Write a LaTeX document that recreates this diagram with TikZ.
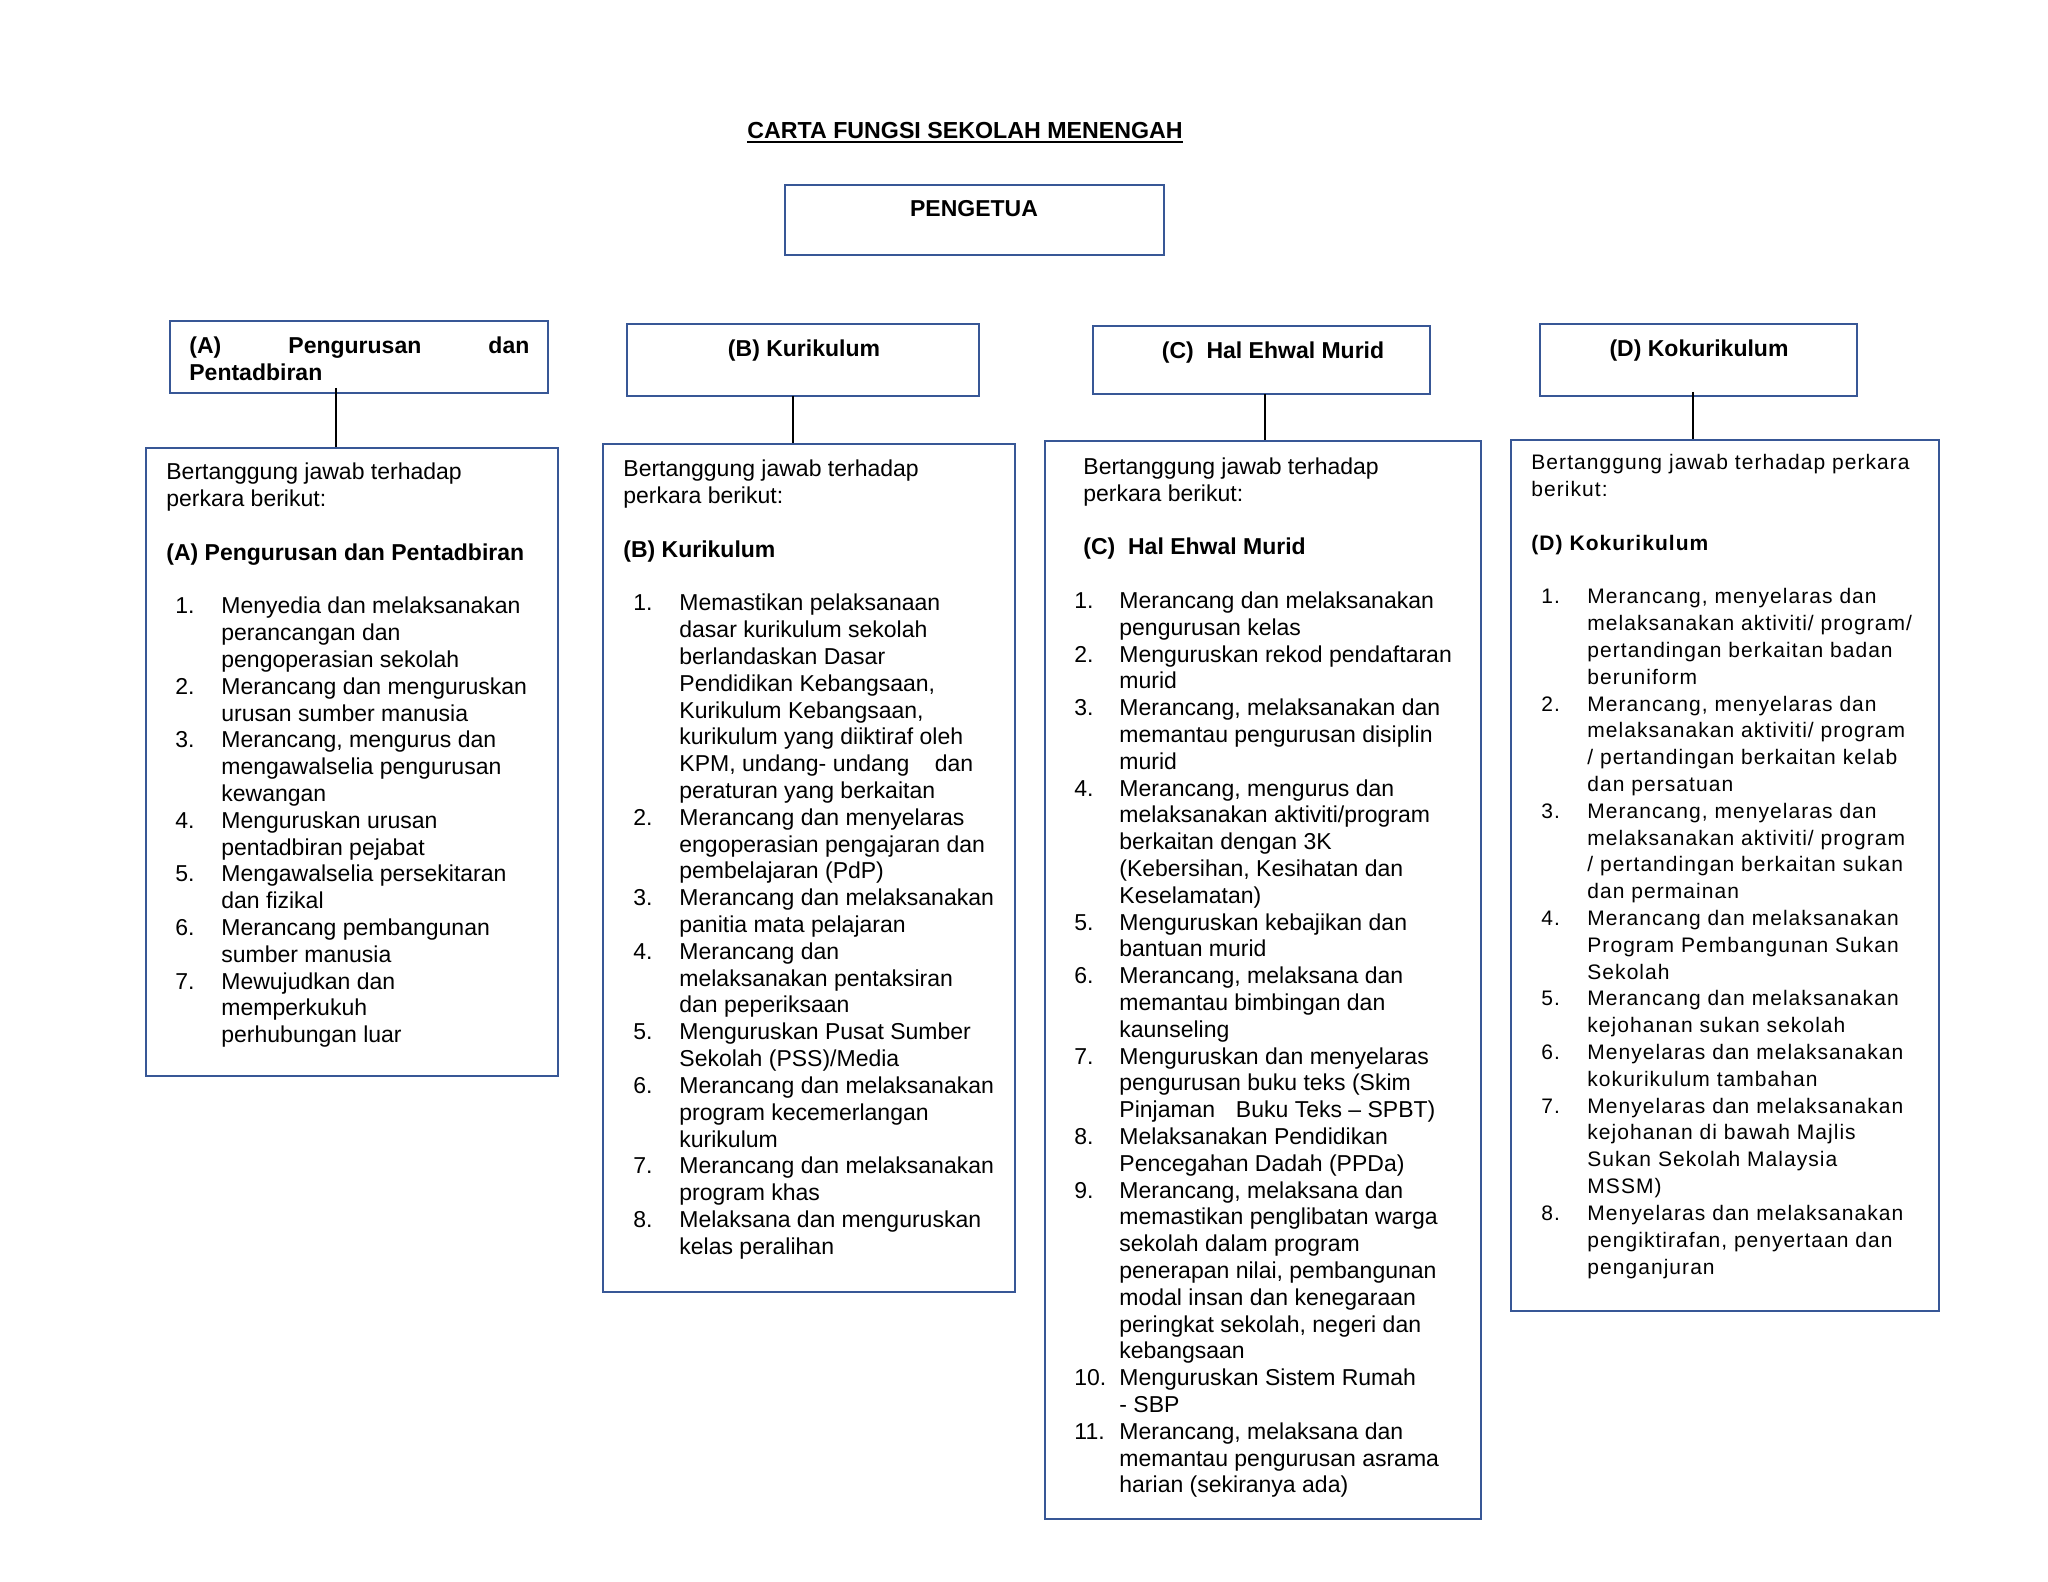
\documentclass[tikz,border=0pt]{standalone}
\usepackage{fontspec}
\setmainfont{Liberation Sans}
\usetikzlibrary{fit}
\definecolor{boxblue}{RGB}{56,87,150}
\newlength\numind
\newlength\txtind
\newcommand\itm[1]{\makebox[\txtind][l]{\hspace*{\numind}#1}}
\newcommand\cnt{\hspace*{\txtind}}
\newcommand\thickul[1]{\setbox0\hbox{#1}\leavevmode\rlap{\rule[-2.2pt]{\wd0}{1.1pt}}\box0}
\tikzset{
  frame/.style={draw=boxblue, line width=1.4pt, inner sep=0pt},
  link/.style={draw=black, line width=1.4pt},
  body/.style={inner sep=0pt, anchor=base west, font=\fontsize{11.5}{13.4}\selectfont},
  bodyD/.style={inner sep=0pt, anchor=base west, font=\fontsize{10.5}{13.4}\selectfont\addfontfeature{LetterSpace=5}},
  head/.style={inner sep=0pt, anchor=base, font=\fontsize{11.5}{13.4}\selectfont\bfseries},
}
\begin{document}
\begin{tikzpicture}[x=0.5pt,y=-0.5pt]
\useasboundingbox[fill=white] (0,0) rectangle (2048,1582);

% title
\node[head, font=\fontsize{11.6}{13.4}\selectfont\bfseries] (title) at (965,139) {\thickul{CARTA FUNGSI SEKOLAH MENENGAH}};

% principal
\node[frame, fit={(785,185) (1164,255)}] (pg) {};
\node[head] (pgt) at (974,217) {PENGETUA};

% second-level boxes
\node[frame, fit={(170,321) (548,393)}] (tA) {};
\node[head, anchor=base west] (tAt) at (189,354) {\begin{tabular}[t]{@{}l@{}}\makebox[170pt][l]{(A)\hfill Pengurusan\hfill dan}\\Pentadbiran\end{tabular}};
\node[frame, fit={(627,324) (979,396)}] (tB) {};
\node[head] (tBt) at (804,357) {(B) Kurikulum};
\node[frame, fit={(1093,326) (1430,394)}] (tC) {};
\node[head] (tCt) at (1273,359) {(C)\ \ Hal Ehwal Murid};
\node[frame, fit={(1540,324) (1857,396)}] (tD) {};
\node[head] (tDt) at (1699,357) {(D) Kokurikulum};

% detail boxes
\node[frame, fit={(146,448) (558,1076)}] (bA) {};
\node[frame, fit={(603,444) (1015,1292)}] (bB) {};
\node[frame, fit={(1045,441) (1481,1519)}] (bC) {};
\node[frame, fit={(1511,440) (1939,1311)}] (bD) {};

% connectors
\coordinate (cA) at (336,388);
\coordinate (cB) at (793,396);
\coordinate (cC) at (1265,394);
\coordinate (cD) at (1693,392);
\draw[link] (cA) -- (cA |- bA.north);
\draw[link] (cB) -- (cB |- bB.north);
\draw[link] (cC) -- (cC |- bC.north);
\draw[link] (cD) -- (cD |- bD.north);

% text A
\node[body] (xA) at (166,480) {\setlength\numind{4.5pt}\setlength\txtind{27.5pt}%
\begin{tabular}[t]{@{}l@{}}
Bertanggung jawab terhadap\\
perkara berikut:\\
\\
\textbf{(A) Pengurusan dan Pentadbiran}\\
\\
\itm{1.}Menyedia dan melaksanakan\\
\cnt perancangan dan\\
\cnt pengoperasian sekolah\\
\itm{2.}Merancang dan menguruskan\\
\cnt urusan sumber manusia\\
\itm{3.}Merancang, mengurus dan\\
\cnt mengawalselia pengurusan\\
\cnt kewangan\\
\itm{4.}Menguruskan urusan\\
\cnt pentadbiran pejabat\\
\itm{5.}Mengawalselia persekitaran\\
\cnt dan fizikal\\
\itm{6.}Merancang pembangunan\\
\cnt sumber manusia\\
\itm{7.}Mewujudkan dan\\
\cnt memperkukuh\\
\cnt perhubungan luar
\end{tabular}};

% text B
\node[body] (xB) at (623,477) {\setlength\numind{5pt}\setlength\txtind{28pt}%
\begin{tabular}[t]{@{}l@{}}
Bertanggung jawab terhadap\\
perkara berikut:\\
\\
\textbf{(B) Kurikulum}\\
\\
\itm{1.}Memastikan pelaksanaan\\
\cnt dasar kurikulum sekolah\\
\cnt berlandaskan Dasar\\
\cnt Pendidikan Kebangsaan,\\
\cnt Kurikulum Kebangsaan,\\
\cnt kurikulum yang diiktiraf oleh\\
\cnt KPM, undang- undang\hspace{1.1em}dan\\
\cnt peraturan yang berkaitan\\
\itm{2.}Merancang dan menyelaras\\
\cnt engoperasian pengajaran dan\\
\cnt pembelajaran (PdP)\\
\itm{3.}Merancang dan melaksanakan\\
\cnt panitia mata pelajaran\\
\itm{4.}Merancang dan\\
\cnt melaksanakan pentaksiran\\
\cnt dan peperiksaan\\
\itm{5.}Menguruskan Pusat Sumber\\
\cnt Sekolah (PSS)/Media\\
\itm{6.}Merancang dan melaksanakan\\
\cnt program kecemerlangan\\
\cnt kurikulum\\
\itm{7.}Merancang dan melaksanakan\\
\cnt program khas\\
\itm{8.}Melaksana dan menguruskan\\
\cnt kelas peralihan
\end{tabular}};

% text C
\node[body] (xC) at (1074,474.5) {\setlength\numind{0pt}\setlength\txtind{22.5pt}%
\begin{tabular}[t]{@{}l@{}}
\hspace*{4.5pt}Bertanggung jawab terhadap\\
\hspace*{4.5pt}perkara berikut:\\
\\
\hspace*{4.5pt}\textbf{(C)\ \ Hal Ehwal Murid}\\
\\
\itm{1.}Merancang dan melaksanakan\\
\cnt pengurusan kelas\\
\itm{2.}Menguruskan rekod pendaftaran\\
\cnt murid\\
\itm{3.}Merancang, melaksanakan dan\\
\cnt memantau pengurusan disiplin\\
\cnt murid\\
\itm{4.}Merancang, mengurus dan\\
\cnt melaksanakan aktiviti/program\\
\cnt berkaitan dengan 3K\\
\cnt (Kebersihan, Kesihatan dan\\
\cnt Keselamatan)\\
\itm{5.}Menguruskan kebajikan dan\\
\cnt bantuan murid\\
\itm{6.}Merancang, melaksana dan\\
\cnt memantau bimbingan dan\\
\cnt kaunseling\\
\itm{7.}Menguruskan dan menyelaras\\
\cnt pengurusan buku teks (Skim\\
\cnt Pinjaman\hspace{0.9em}Buku Teks – SPBT)\\
\itm{8.}Melaksanakan Pendidikan\\
\cnt Pencegahan Dadah (PPDa)\\
\itm{9.}Merancang, melaksana dan\\
\cnt memastikan penglibatan warga\\
\cnt sekolah dalam program\\
\cnt penerapan nilai, pembangunan\\
\cnt modal insan dan kenegaraan\\
\cnt peringkat sekolah, negeri dan\\
\cnt kebangsaan\\
\itm{10.}Menguruskan Sistem Rumah\\
\cnt - SBP\\
\itm{11.}Merancang, melaksana dan\\
\cnt memantau pengurusan asrama\\
\cnt harian (sekiranya ada)
\end{tabular}};

% text D
\node[bodyD] (xD) at (1531,470) {\setlength\numind{5pt}\setlength\txtind{28pt}%
\begin{tabular}[t]{@{}l@{}}
Bertanggung jawab terhadap perkara\\
berikut:\\
\\
\textbf{(D) Kokurikulum}\\
\\
\itm{1.}Merancang, menyelaras dan\\
\cnt melaksanakan aktiviti/ program/\\
\cnt pertandingan berkaitan badan\\
\cnt beruniform\\
\itm{2.}Merancang, menyelaras dan\\
\cnt melaksanakan aktiviti/ program\\
\cnt / pertandingan berkaitan kelab\\
\cnt dan persatuan\\
\itm{3.}Merancang, menyelaras dan\\
\cnt melaksanakan aktiviti/ program\\
\cnt / pertandingan berkaitan sukan\\
\cnt dan permainan\\
\itm{4.}Merancang dan melaksanakan\\
\cnt Program Pembangunan Sukan\\
\cnt Sekolah\\
\itm{5.}Merancang dan melaksanakan\\
\cnt kejohanan sukan sekolah\\
\itm{6.}Menyelaras dan melaksanakan\\
\cnt kokurikulum tambahan\\
\itm{7.}Menyelaras dan melaksanakan\\
\cnt kejohanan di bawah Majlis\\
\cnt Sukan Sekolah Malaysia\\
\cnt MSSM)\\
\itm{8.}Menyelaras dan melaksanakan\\
\cnt pengiktirafan, penyertaan dan\\
\cnt penganjuran
\end{tabular}};
\end{tikzpicture}
\end{document}
